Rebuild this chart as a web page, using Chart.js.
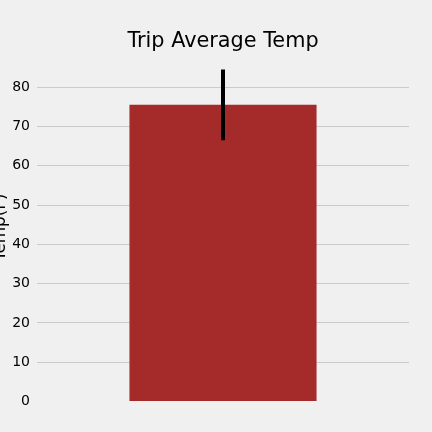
<!DOCTYPE html>
<html>
<head>
<meta charset="utf-8">
<script src="https://cdn.jsdelivr.net/npm/chart.js@4/dist/chart.umd.min.js"></script>
<style>
  html, body { margin: 0; padding: 0; background: #f0f0f0; }
  #wrap { width: 432px; height: 432px; }
</style>
</head>
<body>
<div id="wrap"><canvas id="c" width="432" height="432"></canvas></div>
<script>
// ---- data ----
const categories = [''];
const avgTemps = [75.5];      // bar height (°F)
const tempErrors = [9.0];     // half of (max - min)
const yTicks = [0, 10, 20, 30, 40, 50, 60, 70, 80];
const chartTitle = 'Trip Average Temp';
const yLabel = 'Temp(F)';

const FONT = '"DejaVu Sans", sans-serif';

const errorBarPlugin = {
  id: 'errorBars',
  afterDatasetsDraw(chart) {
    const meta = chart.getDatasetMeta(0);
    const y = chart.scales.y;
    const ctx = chart.ctx;
    ctx.save();
    ctx.strokeStyle = '#000';
    ctx.lineWidth = 4;
    ctx.lineCap = 'butt';
    meta.data.forEach((bar, i) => {
      const v = avgTemps[i], e = tempErrors[i];
      ctx.beginPath();
      ctx.moveTo(bar.x, y.getPixelForValue(v - e));
      ctx.lineTo(bar.x, y.getPixelForValue(v + e));
      ctx.stroke();
    });
    ctx.restore();
  }
};

const textPlugin = {
  id: 'texts',
  afterDraw(chart) {
    const ctx = chart.ctx;
    const a = chart.chartArea;
    ctx.save();
    ctx.fillStyle = '#000';
    ctx.font = '20.8px ' + FONT;
    ctx.textAlign = 'center';
    ctx.textBaseline = 'alphabetic';
    ctx.fillText(chartTitle, (a.left + a.right) / 2, 46.5);
    ctx.font = '16.8px ' + FONT;
    ctx.translate(4.5, (a.top + a.bottom) / 2);
    ctx.rotate(-Math.PI / 2);
    ctx.fillText(yLabel, 0, 0);
    ctx.restore();
  }
};

new Chart(document.getElementById('c'), {
  type: 'bar',
  data: {
    labels: categories,
    datasets: [{
      data: avgTemps,
      backgroundColor: '#a52a2a',
      borderWidth: 0,
      barPercentage: 1,
      categoryPercentage: 0.503
    }]
  },
  options: {
    responsive: false,
    animation: false,
    devicePixelRatio: 1,
    layout: { padding: { left: 0, right: 23, top: 53, bottom: 30.5 } },
    plugins: {
      legend: { display: false },
      title: { display: false },
      tooltip: { enabled: false }
    },
    scales: {
      x: { display: false },
      y: {
        min: 0,
        max: 88.7,
        afterFit(scale) { scale.width = 37; },
        afterBuildTicks(scale) { scale.ticks = yTicks.map(v => ({ value: v })); },
        border: { display: false },
        grid: {
          drawTicks: false,
          lineWidth: 1,
          color: c => (c.tick && c.tick.value === 0) ? 'rgba(0,0,0,0)' : '#cbcbcb'
        },
        ticks: {
          padding: 7,
          color: '#000',
          font: { family: FONT, size: 14 }
        }
      }
    }
  },
  plugins: [errorBarPlugin, textPlugin]
});
</script>
</body>
</html>
